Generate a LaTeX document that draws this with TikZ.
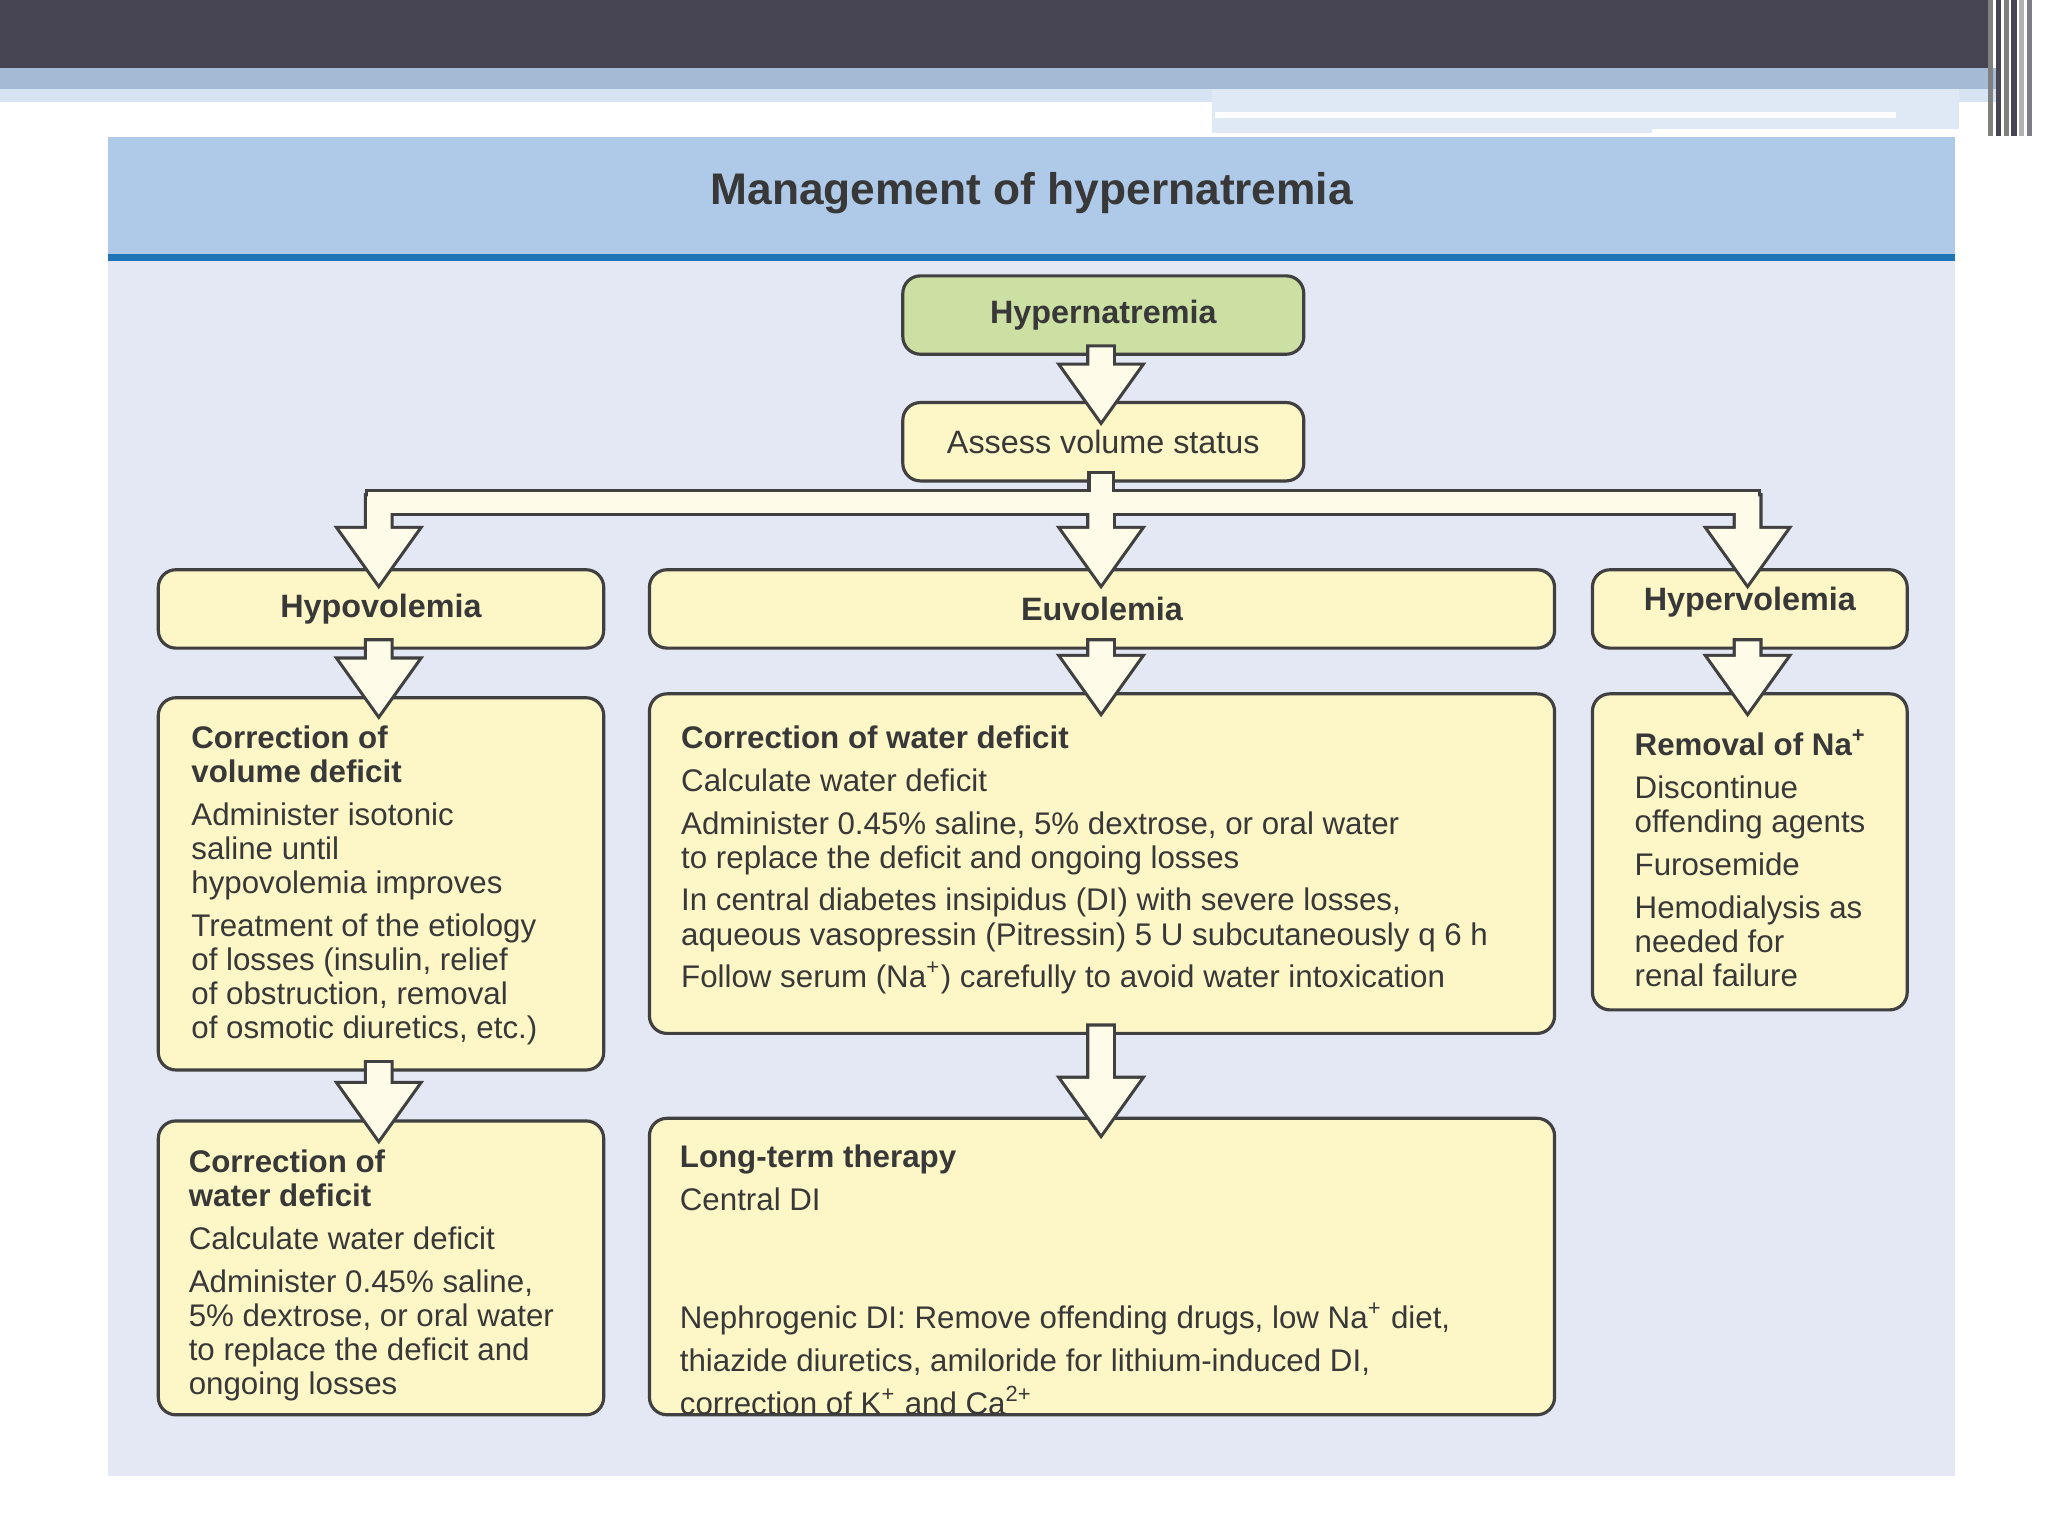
\documentclass[tikz,border=0pt]{standalone}
\usepackage{fontspec}
\setmainfont{Liberation Sans}
\begin{document}
\begin{tikzpicture}[x=0.013061cm,y=-0.013061cm,
  box/.style={draw=black!75,line width=0.9pt,rounded corners=5pt,fill=boxy},
  txt/.style={anchor=north west,align=left,inner sep=0pt,text=txtc,font=\fontsize{8.9}{9.7}\selectfont},
  lab/.style={text=txtc,font=\fontsize{9.2}{11}\selectfont\bfseries},
  aout/.style={draw=black!75,line width=1.8pt,line join=miter},
  ain/.style={fill=boxy!40}]
\definecolor{boxy}{HTML}{FDF6C6}
\definecolor{txtc}{HTML}{383838}
\definecolor{panel}{HTML}{E4E7F4}
\definecolor{head}{HTML}{AFC9E9}
\definecolor{dark}{HTML}{474554}
\useasboundingbox (0,0) rectangle (1568,1176);
\fill[white] (0,0) rectangle (1568,1176);
% slide decoration
\fill[dark] (0,0) rectangle (1522,52);
\fill[head!80!gray] (0,52) rectangle (1530,68);
\fill[head!50!white] (0,68) rectangle (1530,78);
\fill[head!40!white] (928,68) rectangle (1500,102);
\fill[white] (930,86) rectangle (1452,90);
\fill[white] (1265,99) rectangle (1500,104);
\foreach \xx/\cc in {1522/gray,1528/dark,1534/gray,1540/dark,1546/gray!60,1552/dark!70}
  \fill[\cc] (\xx,0) rectangle ++(4,104);
% panel
\fill[panel] (83,105) rectangle (1497,1130);
\fill[head] (83,105) rectangle (1497,195);
\draw[color={rgb,255:red,31;green,115;blue,184},line width=2pt] (83,197) -- (1497,197);
\node[text=txtc,font=\fontsize{12.6}{14}\selectfont\bfseries] (title) at (790,148) {Management of hypernatremia};
% boxes
\node[box,fill={rgb,255:red,205;green,224;blue,164},minimum width=307*0.013061cm,minimum height=60*0.013061cm,anchor=north west] (hyper) at (690,210) {};
\node[lab] at (hyper.center) {Hypernatremia};
\node[box,minimum width=307*0.013061cm,minimum height=60*0.013061cm,anchor=north west] (assess) at (690,307) {};
\node[text=txtc,font=\fontsize{9.2}{11}\selectfont] at (assess.center) {Assess volume status};
\node[box,minimum width=341*0.013061cm,minimum height=60*0.013061cm,anchor=north west] (hypo) at (120,435) {};
\node[lab] at (hypo.center) {Hypovolemia};
\node[box,minimum width=693*0.013061cm,minimum height=60*0.013061cm,anchor=north west] (euvo) at (496,435) {};
\node[lab] at (euvo.center) {Euvolemia};
\node[box,minimum width=241*0.013061cm,minimum height=60*0.013061cm,anchor=north west] (hypv) at (1218,435) {};
\node[lab] at ([yshift=2pt]hypv.center) {Hypervolemia};
\node[box,minimum width=341*0.013061cm,minimum height=285*0.013061cm,anchor=north west] (l2) at (120,533) {};
\node[box,minimum width=693*0.013061cm,minimum height=260*0.013061cm,anchor=north west] (m2) at (496,530) {};
\node[box,minimum width=241*0.013061cm,minimum height=242*0.013061cm,anchor=north west] (r2) at (1218,530) {};
\node[box,minimum width=341*0.013061cm,minimum height=225*0.013061cm,anchor=north west] (l3) at (120,857) {};
\node[box,minimum width=693*0.013061cm,minimum height=227*0.013061cm,anchor=north west] (m3) at (496,855) {};
% texts
\node[txt] (tl2) at (146,555) {\textbf{Correction of}\\\textbf{volume deficit}\\[2.5pt]
Administer isotonic\\saline until\\hypovolemia improves\\[2.5pt]
Treatment of the etiology\\of losses (insulin, relief\\of obstruction, removal\\of osmotic diuretics, etc.)};
\node[txt] (tm2) at (521,555) {\textbf{Correction of water deficit}\\[2.5pt]
Calculate water deficit\\[2.5pt]
Administer 0.45\% saline, 5\% dextrose, or oral water\\to replace the deficit and ongoing losses\\[2.5pt]
In central diabetes insipidus (DI) with severe losses,\\aqueous vasopressin (Pitressin) 5 U subcutaneously q 6 h\\[2.5pt]
Follow serum (Na\textsuperscript{+}) carefully to avoid water intoxication};
\node[txt] (tr2) at (1251,558) {\textbf{Removal of Na\textsuperscript{+}}\\[2.5pt]
Discontinue\\offending agents\\[2.5pt]
Furosemide\\[2.5pt]
Hemodialysis as\\needed for\\renal failure};
\node[txt] (tl3) at (144,880) {\textbf{Correction of}\\\textbf{water deficit}\\[2.5pt]
Calculate water deficit\\[2.5pt]
Administer 0.45\% saline,\\5\% dextrose, or oral water\\to replace the deficit and\\ongoing losses};
\node[txt] (tm3) at (520,876) {\textbf{Long-term therapy}\\[2.5pt]
Central DI\\[24pt]
Nephrogenic DI: Remove offending drugs, low Na\textsuperscript{+} diet,\\[2.5pt]
thiazide diuretics, amiloride for lithium-induced DI,\\[2.5pt]
correction of K\textsuperscript{+} and Ca\textsuperscript{2+}};
% arrows
\newcommand{\arrpath}[3]{(#1-9,#2) -- (#1-9,#3-42) -- (#1-30,#3-42) -- (#1,#3) -- (#1+30,#3-42) -- (#1+9,#3-42) -- (#1+9,#2) -- cycle}
\newcommand{\blockarr}[3]{\draw[aout] \arrpath{#1}{#2}{#3}; \fill[ain] \arrpath{#1}{#2}{#3};}
\blockarr{843}{266}{322}
\blockarr{290}{491}{547}
\blockarr{843}{491}{545}
\blockarr{1338}{491}{545}
\blockarr{290}{814}{872}
\blockarr{843}{786}{868}
% branching
\draw[aout] (835,363) rectangle (851,385);
\draw[aout] (282,377) rectangle (1346,393);
\draw[aout] \arrpath{290}{380}{447};
\draw[aout] \arrpath{843}{380}{447};
\draw[aout] \arrpath{1338}{380}{447};
\fill[ain] (835,363) rectangle (851,385);
\fill[ain] (282,377) rectangle (1346,393);
\fill[ain] \arrpath{290}{380}{447};
\fill[ain] \arrpath{843}{380}{447};
\fill[ain] \arrpath{1338}{380}{447};
\end{tikzpicture}
\end{document}
